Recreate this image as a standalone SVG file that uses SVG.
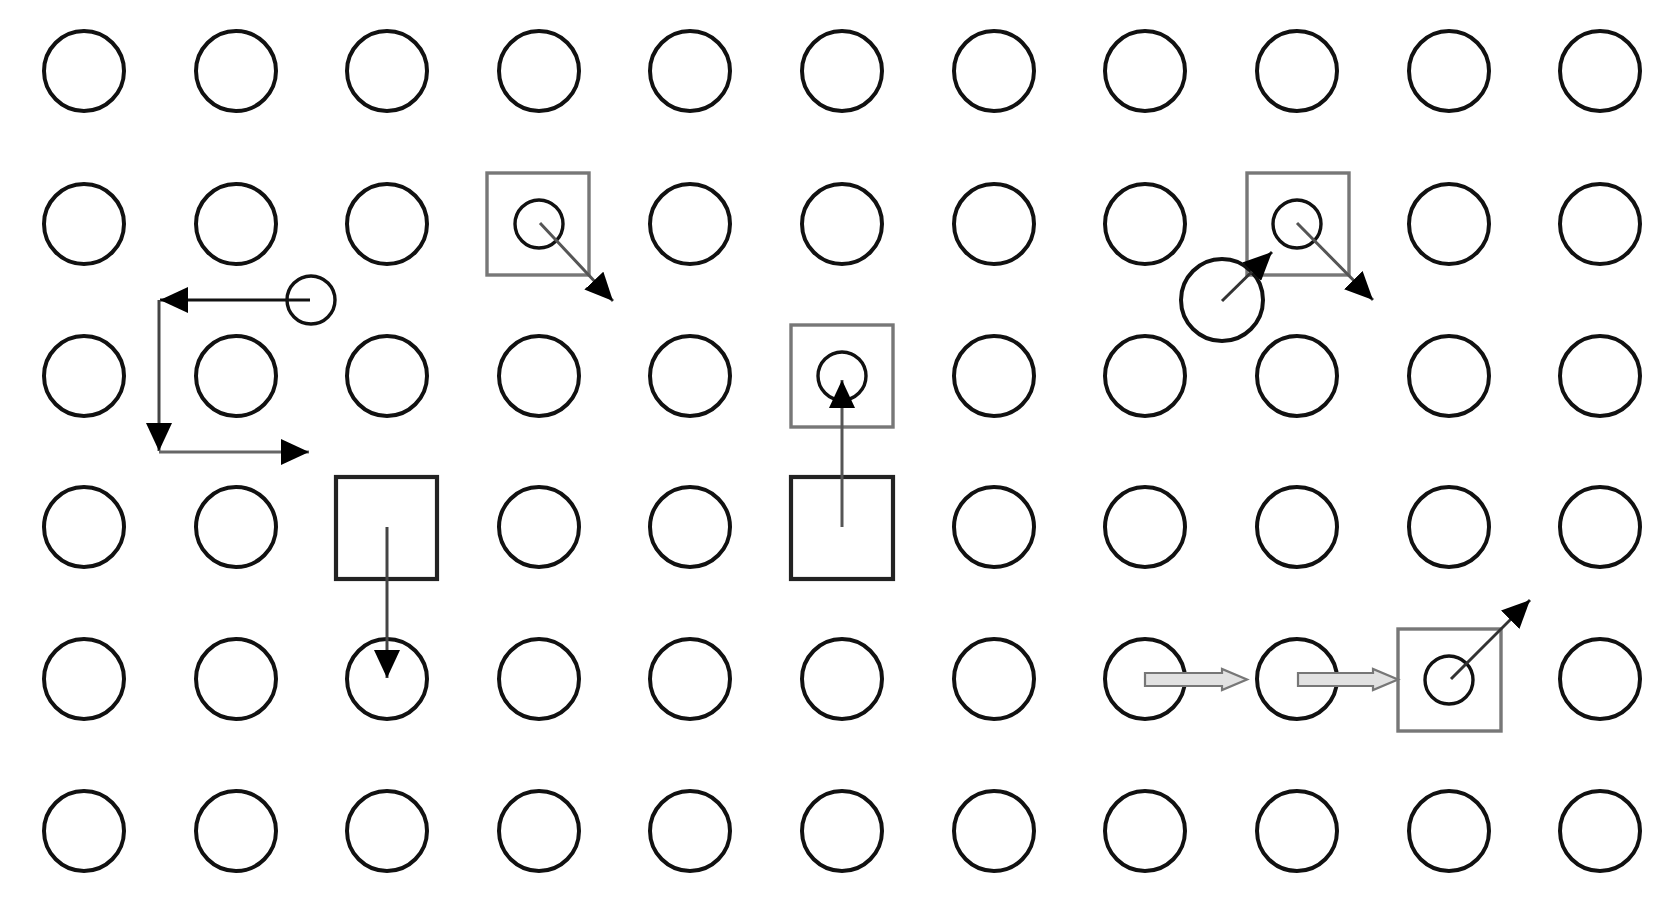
<svg xmlns="http://www.w3.org/2000/svg" width="1672" height="905" viewBox="0 0 1672 905">
<defs>
<style>
.g{fill:none;stroke:#111;stroke-width:4}
.s{fill:none;stroke:#111;stroke-width:3.4}
.bg{fill:none;stroke:#777;stroke-width:3.4}
.bb{fill:none;stroke:#222;stroke-width:4.2}
.c{fill:none;stroke-width:3}
.blk{fill:#e2e2e2;stroke:#777;stroke-width:2.2}
</style>
<marker id="ah" viewBox="0 0 28 26" refX="28" refY="13" markerWidth="28" markerHeight="26" markerUnits="userSpaceOnUse" orient="auto">
<path d="M0,0 L28,13 L0,26 Z" fill="#000"/>
</marker>
</defs>
<rect width="1672" height="905" fill="#fff"/>
<g id="grid">
<g id="row1">
<circle class="g" cx="84" cy="71" r="40"/><circle class="g" cx="236" cy="71" r="40"/><circle class="g" cx="387" cy="71" r="40"/><circle class="g" cx="539" cy="71" r="40"/><circle class="g" cx="690" cy="71" r="40"/><circle class="g" cx="842" cy="71" r="40"/><circle class="g" cx="994" cy="71" r="40"/><circle class="g" cx="1145" cy="71" r="40"/><circle class="g" cx="1297" cy="71" r="40"/><circle class="g" cx="1449" cy="71" r="40"/><circle class="g" cx="1600" cy="71" r="40"/>
</g>
<g id="row2">
<circle class="g" cx="84" cy="224" r="40"/><circle class="g" cx="236" cy="224" r="40"/><circle class="g" cx="387" cy="224" r="40"/><circle class="g" cx="690" cy="224" r="40"/><circle class="g" cx="842" cy="224" r="40"/><circle class="g" cx="994" cy="224" r="40"/><circle class="g" cx="1145" cy="224" r="40"/><circle class="g" cx="1449" cy="224" r="40"/><circle class="g" cx="1600" cy="224" r="40"/>
</g>
<g id="row3">
<circle class="g" cx="84" cy="376" r="40"/><circle class="g" cx="236" cy="376" r="40"/><circle class="g" cx="387" cy="376" r="40"/><circle class="g" cx="539" cy="376" r="40"/><circle class="g" cx="690" cy="376" r="40"/><circle class="g" cx="994" cy="376" r="40"/><circle class="g" cx="1145" cy="376" r="40"/><circle class="g" cx="1297" cy="376" r="40"/><circle class="g" cx="1449" cy="376" r="40"/><circle class="g" cx="1600" cy="376" r="40"/>
</g>
<g id="row4">
<circle class="g" cx="84" cy="527" r="40"/><circle class="g" cx="236" cy="527" r="40"/><circle class="g" cx="539" cy="527" r="40"/><circle class="g" cx="690" cy="527" r="40"/><circle class="g" cx="994" cy="527" r="40"/><circle class="g" cx="1145" cy="527" r="40"/><circle class="g" cx="1297" cy="527" r="40"/><circle class="g" cx="1449" cy="527" r="40"/><circle class="g" cx="1600" cy="527" r="40"/>
</g>
<g id="row5">
<circle class="g" cx="84" cy="679" r="40"/><circle class="g" cx="236" cy="679" r="40"/><circle class="g" cx="387" cy="679" r="40"/><circle class="g" cx="539" cy="679" r="40"/><circle class="g" cx="690" cy="679" r="40"/><circle class="g" cx="842" cy="679" r="40"/><circle class="g" cx="994" cy="679" r="40"/><circle class="g" cx="1145" cy="679" r="40"/><circle class="g" cx="1297" cy="679" r="40"/><circle class="g" cx="1600" cy="679" r="40"/>
</g>
<g id="row6">
<circle class="g" cx="84" cy="831" r="40"/><circle class="g" cx="236" cy="831" r="40"/><circle class="g" cx="387" cy="831" r="40"/><circle class="g" cx="539" cy="831" r="40"/><circle class="g" cx="690" cy="831" r="40"/><circle class="g" cx="842" cy="831" r="40"/><circle class="g" cx="994" cy="831" r="40"/><circle class="g" cx="1145" cy="831" r="40"/><circle class="g" cx="1297" cy="831" r="40"/><circle class="g" cx="1449" cy="831" r="40"/><circle class="g" cx="1600" cy="831" r="40"/>
</g>
</g>
<g id="box-a"><rect class="bg" x="487" y="173" width="102" height="102"/><circle class="s" cx="539" cy="224" r="24"/></g>
<g id="box-b"><rect class="bg" x="791" y="325" width="102" height="102"/><circle class="s" cx="842" cy="376" r="24"/></g>
<g id="box-c"><rect class="bg" x="1247" y="173" width="102" height="102"/><circle class="s" cx="1297" cy="224" r="24"/></g>
<g id="box-d"><rect class="bg" x="1398" y="629" width="103" height="102"/><circle class="s" cx="1449" cy="680" r="24"/></g>
<g id="square-a"><rect class="bb" x="336" y="477" width="101" height="102"/></g>
<g id="square-b"><rect class="bb" x="791" y="477" width="102" height="102"/></g>
<g id="small-circle"><circle class="s" cx="311" cy="300" r="24"/></g>
<g id="big-circle"><circle class="g" cx="1222" cy="300" r="41"/></g>
<g id="connectors">
<line class="c" x1="540" y1="223" x2="613" y2="301" stroke="#555" stroke-width="2.5" marker-end="url(#ah)"/>
<line class="c" x1="310" y1="300" x2="160" y2="300" stroke="#111" marker-end="url(#ah)"/>
<line class="c" x1="159" y1="300" x2="159" y2="451" stroke="#444" marker-end="url(#ah)"/>
<line class="c" x1="159" y1="452" x2="309" y2="452" stroke="#666" marker-end="url(#ah)"/>
<line class="c" x1="387" y1="527" x2="387" y2="678" stroke="#444" marker-end="url(#ah)"/>
<line class="c" x1="842" y1="527" x2="842" y2="380" stroke="#555" marker-end="url(#ah)"/>
<line class="c" x1="1297" y1="223" x2="1373" y2="300" stroke="#555" stroke-width="2.5" marker-end="url(#ah)"/>
<line class="c" x1="1222" y1="301" x2="1272" y2="252" stroke="#333" stroke-width="2.5" marker-end="url(#ah)"/>
<line class="c" x1="1451" y1="679" x2="1530" y2="600" stroke="#333" stroke-width="2.5" marker-end="url(#ah)"/>
<path class="blk" d="M1145,673 H1222 V669 L1247,679.5 L1222,690 V686 H1145 Z"/>
<path class="blk" d="M1298,673 H1373 V669 L1398,679.5 L1373,690 V686 H1298 Z"/>
</g>
</svg>
